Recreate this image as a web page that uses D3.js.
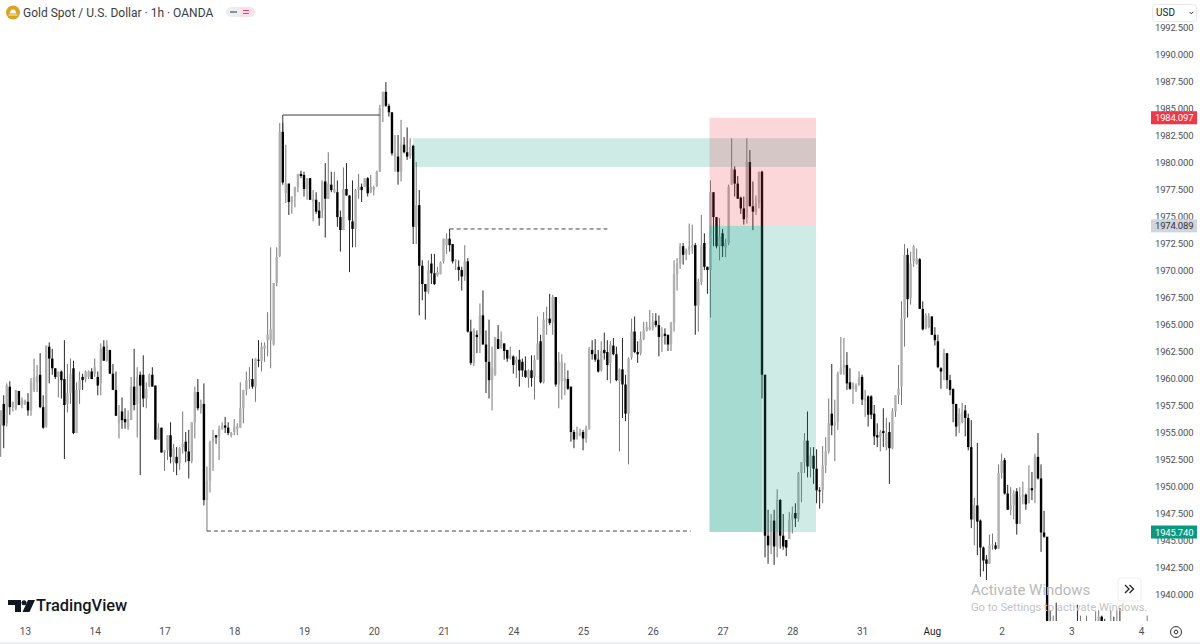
<!DOCTYPE html>
<html>
<head>
<meta charset="utf-8">
<script src="https://cdn.jsdelivr.net/npm/d3@7"></script>
<style>
html, body { margin: 0; padding: 0; background: #fff; overflow: hidden; }
svg { display: block; }
text { font-family: Roboto, "Noto Sans", sans-serif; }
</style>
</head>
<body>
<script>
// XAUUSD 1h candles, bar 1 is the leftmost one
var opens = [
1955.6,1957.6,1955.8,1959.2,1957.3,1957.2,1958.8,1957.5,1957.6,1957.8,
1957.0,1958.9,1959.6,1960.3,1957.3,1955.5,1962.9,1961.8,1960.9,1960.1,
1960.6,1959.9,1957.6,1958.6,1960.9,1954.9,1958.9,1960.1,1959.9,1960.1,
1960.6,1960.4,1960.1,1959.5,1962.9,1961.6,1962.6,1960.4,1958.9,1955.8,
1956.9,1956.2,1955.4,1956.1,1959.2,1957.6,1960.3,1960.3,1958.1,1959.2,
1960.3,1959.3,1954.3,1955.4,1953.1,1953.3,1954.7,1952.2,1952.7,1952.1,
1953.6,1954.1,1953.2,1952.3,1955.9,1958.7,1957.2,1957.6,1948.7,1950.5,
1954.1,1954.7,1954.6,1955.3,1955.6,1955.4,1954.7,1955.0,1955.3,1955.4,
1957.2,1958.9,1959.8,1959.9,1959.2,1961.7,1961.6,1962.7,1963.5,1963.5,
1963.1,1968.8,1971.3,1982.8,1977.1,1978.0,1976.3,1976.8,1977.7,1978.9,
1978.8,1977.5,1978.5,1976.3,1976.5,1975.5,1975.5,1978.2,1976.6,1977.9,
1977.2,1977.2,1974.9,1973.7,1977.5,1976.9,1974.5,1973.8,1977.4,1977.7,
1977.7,1978.5,1977.2,1977.4,1977.8,1979.1,1985.1,1986.5,1985.2,1984.6,
1980.5,1980.5,1979.1,1981.6,1980.9,1980.6,1981.5,1974.0,1976.0,1970.4,
1968.7,1968.0,1970.6,1969.7,1969.5,1969.6,1970.8,1972.3,1972.9,1972.4,
1970.8,1970.3,1970.0,1969.4,1970.8,1964.3,1961.4,1964.0,1964.0,1965.8,
1963.1,1961.5,1959.8,1960.3,1963.6,1962.8,1963.2,1962.6,1961.8,1962.0,
1961.4,1961.7,1961.5,1960.7,1960.0,1960.7,1960.1,1961.7,1963.4,1959.6,
1965.4,1965.5,1965.1,1967.5,1959.4,1959.7,1959.7,1959.9,1959.2,1955.0,
1954.6,1954.7,1955.0,1954.4,1955.3,1962.6,1962.2,1961.7,1960.7,1962.6,
1962.4,1961.4,1963.0,1962.2,1959.7,1960.8,1959.4,1956.7,1961.9,1964.3,
1962.4,1962.3,1963.6,1964.4,1964.5,1964.6,1965.3,1964.9,1963.8,1964.1,
1964.0,1963.1,1965.1,1969.6,1970.6,1972.2,1971.5,1971.8,1972.1,1972.3,
1966.7,1968.9,1972.5,1970.3,1970.0,1977.2,1974.9,1972.2,1973.4,1972.1,
1972.5,1977.9,1979.3,1978.0,1976.7,1975.7,1974.9,1980.0,1975.9,1975.4,
1976.2,1979.1,1960.3,1945.4,1944.5,1946.8,1944.4,1948.7,1945.4,1945.0,
1945.1,1946.9,1947.5,1947.0,1951.2,1952.2,1954.2,1951.8,1952.8,1951.6,
1949.6,1949.6,1951.9,1953.2,1956.7,1955.6,1955.9,1960.4,1960.9,1961.2,
1959.6,1959.0,1958.9,1959.3,1960.1,1957.9,1958.3,1958.3,1956.7,1954.7,
1954.5,1955.1,1953.6,1955.0,1953.5,1956.9,1958.4,1959.2,1965.5,1971.4,
1967.4,1970.8,1970.6,1971.0,1966.4,1964.6,1964.7,1965.7,1964.0,1963.4,
1960.9,1960.7,1962.3,1959.8,1959.0,1957.6,1955.6,1955.9,1957.0,1956.3,
1953.6,1946.9,1948.2,1946.8,1944.3,1943.2,1942.8,1944.5,1944.5,1944.2,
1951.2,1952.4,1949.3,1947.8,1948.2,1949.5,1946.5,1949.0,1949.2,1948.4,
1949.8,1949.8,1952.7,1950.7,1945.7,1945.3,1934.8,1933.0,1934.5,1933.4,
1932.6,1934.1,1935.2,1934.4,1935.6,1936.4,1935.7,1936.6,1935.8,1936.7,
1936.0,1935.3,1936.9,1937.9,1937.0,1936.4,1935.9,1937.0,1936.2,1937.1,
1936.2,1935.3,1934.6,1935.4,1934.8,1935.7,1935.1,1936.0,1935.5
];
var highs = [
1957.0,1958.4,1959.5,1959.7,1957.8,1958.9,1958.8,1958.2,1958.0,1958.6,
1960.0,1961.8,1961.2,1962.3,1958.4,1963.0,1963.3,1962.7,1960.9,1960.6,
1960.7,1963.5,1961.3,1961.8,1961.6,1959.6,1960.6,1960.4,1960.7,1960.7,
1960.9,1961.8,1960.6,1963.2,1963.5,1963.5,1962.6,1961.3,1960.6,1957.5,
1958.2,1957.2,1957.0,1960.1,1962.7,1961.0,1960.6,1962.1,1959.6,1960.4,
1961.0,1959.3,1955.8,1955.4,1953.3,1954.7,1955.9,1953.9,1953.6,1953.6,
1956.9,1955.0,1955.2,1955.9,1959.2,1959.9,1958.0,1959.5,1951.8,1954.2,
1955.2,1954.7,1955.6,1955.9,1956.4,1955.9,1955.0,1956.2,1955.8,1959.6,
1958.9,1960.6,1961.0,1961.8,1961.8,1963.5,1963.3,1963.3,1966.1,1972.1,
1968.8,1972.1,1983.6,1983.6,1981.6,1978.0,1976.8,1977.7,1978.9,1979.2,
1979.1,1978.5,1978.5,1977.4,1977.2,1976.3,1978.3,1979.9,1980.9,1979.1,
1979.1,1978.3,1975.5,1979.5,1979.9,1976.9,1978.3,1977.5,1978.9,1978.0,
1978.5,1978.6,1978.8,1977.8,1979.2,1985.3,1986.5,1987.4,1985.4,1984.6,
1982.5,1982.5,1983.9,1982.3,1983.2,1982.2,1981.6,1980.0,1977.4,1970.9,
1968.7,1970.9,1971.5,1971.5,1970.3,1970.8,1972.9,1973.4,1973.8,1972.4,
1971.0,1970.9,1970.3,1972.3,1971.1,1965.4,1964.6,1964.4,1966.9,1968.1,
1964.4,1965.4,1962.9,1963.8,1964.9,1964.3,1963.2,1962.6,1962.9,1962.1,
1962.0,1962.6,1961.8,1962.0,1960.8,1962.1,1962.1,1965.7,1964.0,1966.1,
1966.6,1967.8,1967.7,1967.5,1962.4,1962.2,1961.4,1960.7,1959.2,1955.2,
1955.5,1955.3,1955.2,1955.6,1962.9,1963.5,1963.6,1962.6,1963.4,1964.2,
1963.5,1963.4,1963.7,1962.9,1960.9,1963.7,1960.3,1961.9,1965.5,1965.7,
1963.4,1964.3,1965.2,1965.2,1966.3,1966.0,1966.0,1965.8,1964.7,1964.6,
1964.0,1965.2,1970.9,1971.1,1972.5,1972.5,1972.0,1974.3,1974.2,1972.5,
1969.2,1975.1,1973.4,1970.3,1978.3,1977.2,1974.9,1974.8,1973.8,1972.9,
1977.9,1982.2,1979.6,1978.7,1976.8,1976.8,1982.2,1981.1,1978.2,1976.9,
1979.1,1979.2,1960.3,1947.8,1947.4,1947.8,1949.7,1948.8,1947.4,1945.0,
1947.6,1948.1,1948.4,1951.3,1952.2,1954.9,1956.9,1953.6,1953.6,1953.4,
1949.9,1953.7,1954.5,1958.1,1961.3,1958.0,1960.6,1963.8,1963.7,1962.4,
1960.9,1959.6,1959.5,1960.6,1960.3,1958.9,1958.4,1958.4,1957.5,1955.8,
1955.2,1957.2,1956.3,1955.9,1957.2,1958.4,1961.2,1967.1,1972.4,1972.0,
1971.7,1972.3,1972.0,1971.1,1967.1,1966.0,1966.0,1965.7,1964.7,1964.0,
1961.0,1962.7,1962.3,1960.3,1959.0,1957.6,1957.2,1957.7,1957.5,1956.7,
1956.1,1948.9,1954.0,1946.9,1944.4,1943.6,1945.5,1945.6,1944.8,1952.0,
1953.0,1952.6,1950.1,1949.9,1949.6,1949.8,1949.9,1950.4,1949.3,1951.9,
1951.3,1953.0,1954.9,1952.0,1947.7,1945.3,1938.5,1938.0,1939.2,1936.6,
1935.8,1936.3,1936.9,1936.2,1937.2,1939.0,1938.0,1937.2,1938.0,1937.3,
1936.9,1938.4,1938.5,1938.0,1937.7,1937.1,1938.5,1937.9,1938.5,1938.7,
1937.0,1936.2,1936.1,1936.3,1936.4,1936.8,1936.9,1937.0,1938.0
];
var lows = [
1952.7,1953.5,1955.5,1956.6,1956.9,1957.0,1957.5,1957.2,1957.5,1956.5,
1956.5,1958.7,1958.7,1957.2,1955.3,1955.4,1959.5,1960.3,1959.9,1958.2,
1958.1,1952.5,1956.8,1957.6,1954.8,1954.9,1957.6,1958.9,1959.6,1959.9,
1959.9,1960.1,1958.4,1958.4,1961.6,1961.5,1960.4,1958.9,1956.5,1954.4,
1955.3,1955.3,1955.2,1956.1,1957.0,1954.5,1951.0,1957.3,1957.2,1959.2,
1959.2,1954.3,1954.3,1953.1,1951.4,1952.4,1952.1,1951.3,1951.0,1951.5,
1953.0,1952.2,1950.7,1952.1,1954.4,1957.0,1956.7,1948.2,1945.8,1949.4,
1951.4,1953.9,1952.4,1955.2,1954.9,1954.7,1954.5,1954.7,1954.7,1955.4,
1955.8,1958.4,1959.0,1959.0,1957.8,1961.0,1960.6,1961.5,1962.0,1960.9,
1963.0,1968.5,1971.2,1977.9,1976.2,1975.1,1975.2,1975.8,1977.2,1978.5,
1976.8,1976.5,1976.5,1974.5,1975.2,1974.1,1974.8,1973.0,1976.6,1977.2,
1977.1,1974.0,1971.7,1973.7,1976.9,1969.8,1972.1,1972.1,1976.6,1976.3,
1977.7,1976.8,1977.1,1976.9,1977.7,1979.1,1983.7,1985.1,1984.2,1980.6,
1979.1,1977.9,1978.2,1980.8,1980.2,1980.3,1972.4,1972.4,1965.8,1967.2,
1965.4,1967.8,1968.7,1968.6,1969.4,1969.6,1970.6,1971.5,1971.7,1970.6,
1970.0,1969.0,1968.1,1969.0,1964.2,1961.2,1961.1,1962.3,1962.3,1963.1,
1958.6,1958.1,1957.0,1960.2,1962.7,1962.7,1961.7,1961.5,1961.7,1960.4,
1960.0,1959.2,1960.1,1960.0,1959.1,1959.2,1958.0,1961.7,1959.5,1959.5,
1964.0,1964.9,1964.0,1959.2,1957.2,1958.0,1958.4,1958.9,1954.1,1953.5,
1954.3,1954.6,1953.3,1954.0,1955.2,1961.7,1961.5,1960.5,1960.6,1961.7,
1959.8,1959.5,1962.1,1959.7,1953.2,1956.3,1956.0,1952.0,1961.7,1962.3,
1961.4,1962.1,1963.5,1964.3,1964.4,1964.4,1964.7,1962.0,1962.4,1963.1,
1962.5,1962.5,1964.3,1968.1,1970.1,1970.5,1970.9,1971.4,1971.5,1964.0,
1964.3,1968.6,1970.0,1967.8,1965.6,1972.2,1972.0,1970.9,1971.2,1971.2,
1972.3,1977.9,1976.8,1976.6,1975.2,1974.2,1974.3,1975.9,1973.7,1975.1,
1975.7,1958.1,1943.4,1942.8,1943.7,1942.7,1943.4,1944.2,1944.1,1943.5,
1945.1,1945.6,1946.2,1946.7,1948.5,1951.2,1950.8,1950.8,1950.2,1948.4,
1947.9,1948.4,1951.2,1953.0,1954.7,1952.3,1955.2,1960.3,1960.3,1958.9,
1958.9,1957.6,1958.7,1959.3,1957.5,1956.4,1955.5,1956.2,1953.8,1953.6,
1953.2,1953.6,1953.3,1950.2,1953.4,1956.4,1957.6,1957.5,1962.9,1965.6,
1966.8,1970.3,1970.5,1966.4,1964.4,1964.5,1964.6,1964.0,1963.0,1960.9,
1959.0,1959.8,1959.0,1958.4,1955.9,1954.6,1954.9,1955.8,1954.6,1953.3,
1946.1,1944.5,1943.6,1941.6,1942.1,1941.3,1942.8,1944.1,1944.1,1944.2,
1950.7,1949.2,1947.8,1947.3,1946.9,1945.5,1946.5,1948.3,1947.8,1948.4,
1948.7,1948.4,1950.6,1943.9,1945.2,1934.0,1932.0,1932.5,1932.8,1931.9,
1931.8,1933.2,1933.9,1933.5,1934.9,1935.2,1935.1,1935.3,1935.2,1935.6,
1934.9,1934.9,1936.2,1936.8,1936.2,1935.6,1935.4,1935.9,1935.8,1935.9,
1934.9,1934.1,1934.0,1934.2,1934.3,1934.7,1934.7,1935.1,1935.0
];
var closes = [
1957.0,1955.6,1959.3,1957.3,1957.8,1958.9,1957.5,1958.0,1957.9,1957.0,
1959.6,1960.1,1960.2,1957.3,1955.4,1963.0,1961.8,1960.9,1960.1,1960.6,
1959.8,1957.5,1958.6,1960.4,1954.9,1958.9,1959.8,1959.8,1960.6,1960.6,
1959.9,1961.0,1959.3,1962.7,1961.6,1963.0,1960.4,1958.9,1956.5,1956.5,
1956.1,1955.9,1956.2,1959.2,1957.5,1960.1,1959.3,1958.1,1959.0,1960.3,
1959.2,1954.3,1955.4,1953.1,1953.3,1954.7,1952.7,1953.5,1952.1,1953.5,
1953.9,1953.2,1952.3,1955.9,1958.7,1957.2,1957.6,1948.7,1950.5,1954.1,
1954.5,1954.5,1955.3,1955.6,1955.4,1954.9,1954.9,1955.5,1955.5,1957.2,
1958.9,1959.8,1959.9,1959.2,1961.8,1961.6,1962.9,1963.0,1964.0,1964.5,
1968.8,1971.2,1982.8,1978.1,1978.0,1976.3,1976.8,1977.7,1978.9,1978.7,
1977.5,1978.5,1976.5,1976.6,1975.4,1974.8,1978.2,1976.6,1978.0,1977.4,
1977.5,1974.9,1973.7,1977.5,1976.9,1974.6,1973.8,1977.4,1977.7,1977.4,
1978.5,1977.1,1977.7,1977.7,1979.1,1985.0,1986.5,1985.2,1984.6,1980.8,
1980.8,1979.1,1981.6,1980.9,1980.5,1981.4,1974.0,1976.0,1970.4,1968.7,
1968.0,1970.0,1969.7,1968.7,1969.8,1970.7,1972.9,1972.9,1972.3,1970.8,
1970.9,1970.0,1969.4,1970.8,1964.3,1961.4,1964.4,1963.8,1965.8,1963.1,
1961.5,1959.8,1960.9,1963.8,1962.7,1963.5,1962.5,1961.8,1962.1,1961.2,
1961.7,1960.7,1960.7,1960.1,1960.7,1960.0,1961.7,1963.2,1959.6,1965.4,
1965.5,1965.1,1967.5,1959.4,1961.5,1961.5,1960.0,1959.0,1955.0,1954.3,
1955.0,1954.9,1954.4,1955.3,1962.7,1962.2,1961.7,1960.6,1962.5,1962.3,
1961.2,1963.1,1962.2,1959.8,1960.8,1959.4,1956.7,1961.8,1964.3,1962.4,
1962.2,1963.6,1964.4,1964.7,1964.7,1965.2,1964.9,1963.8,1964.0,1963.9,
1963.1,1965.1,1969.6,1970.6,1972.2,1971.4,1971.8,1972.2,1972.3,1966.7,
1968.9,1972.3,1970.3,1970.0,1977.2,1974.9,1972.2,1973.1,1972.2,1972.5,
1977.7,1979.4,1978.0,1976.6,1975.7,1974.7,1980.0,1975.9,1975.4,1976.2,
1979.1,1960.3,1945.4,1944.5,1946.8,1944.4,1948.7,1945.4,1944.4,1944.3,
1946.9,1947.4,1947.0,1951.2,1952.2,1954.2,1951.8,1952.8,1951.6,1949.6,
1949.5,1951.9,1953.2,1955.8,1955.6,1955.9,1960.4,1960.9,1961.2,1959.5,
1959.0,1959.5,1959.3,1960.1,1958.0,1958.1,1956.6,1956.6,1954.6,1954.5,
1955.0,1954.9,1954.9,1953.5,1956.9,1958.4,1959.0,1965.5,1971.4,1967.3,
1970.6,1972.2,1971.1,1966.4,1964.5,1965.8,1965.7,1964.0,1963.5,1961.0,
1960.6,1962.3,1959.8,1958.9,1957.6,1955.5,1956.7,1956.9,1956.3,1953.6,
1946.9,1948.2,1946.7,1944.3,1943.1,1942.8,1944.5,1944.6,1944.2,1951.2,
1952.3,1949.3,1947.8,1948.2,1949.3,1946.5,1949.0,1949.2,1948.3,1949.8,
1949.6,1952.7,1950.7,1945.7,1945.3,1934.8,1933.0,1934.5,1933.4,1932.6,
1934.1,1935.2,1934.4,1935.6,1936.4,1935.7,1936.6,1935.8,1936.7,1936.0,
1935.3,1936.9,1937.9,1937.0,1936.4,1935.9,1937.0,1936.2,1937.1,1936.2,
1935.3,1934.6,1935.4,1934.8,1935.7,1935.1,1936.0,1935.5,1936.6
];

var priceTicks = [1940, 1942.5, 1945, 1947.5, 1950, 1952.5, 1955, 1957.5, 1960, 1962.5, 1965, 1967.5,
    1970, 1972.5, 1975, 1977.5, 1980, 1982.5, 1985, 1987.5, 1990, 1992.5];
var dayLabels = ["13", "14", "17", "18", "19", "20", "21", "24", "25", "26", "27", "28", "31", "Aug", "2", "3", "4"];
var dayBars = [9, 32, 55, 78, 101, 124, 147, 170, 193, 216, 239, 262, 285, 308, 331, 354, 377];

// drawings, in [first bar, last bar] and price
var stopPrice = 1984.097;
var entryPrice = 1974.089;
var targetPrice = 1945.74;
var positionBars = [234.7, 269.8];
var filledBars = [234.7, 252];
var zoneBars = [137, 269.8];
var zonePrices = [1982.2, 1979.55];
var highLineBars = [94, 126];
var highLinePrice = 1984.35;
var highLineStart = 1982.8;
var midDashBars = [149, 201];
var midDashPrice = 1973.8;
var lowDashBars = [69, 228.5];
var lowDashPrice = 1945.83;

var width = 1200;
var height = 644;
var chartBottom = 621;
var chartRight = 1150;

var x = d3.scaleLinear().domain([1, 379]).range([0.7, 1147.2]);
var y = d3.scaleLinear().domain([1940, 1990]).range([594, 54]);

var svg = d3.select("body").append("svg")
    .attr("width", width)
    .attr("height", height);

svg.append("clipPath").attr("id", "plot")
    .append("rect")
    .attr("width", chartRight)
    .attr("height", chartBottom);

var plot = svg.append("g").attr("clip-path", "url(#plot)");

var bars = d3.range(opens.length);
var upGray = "#b0b0b0";
var upWick = "#787878";
var downWick = "#262626";

function isUp(i) {
    return closes[i] >= opens[i];
}

// wicks
plot.selectAll("line.wick")
    .data(bars)
    .enter()
    .append("line")
    .attr("class", "wick")
    .attr("x1", function(i) { return x(i + 1); })
    .attr("x2", function(i) { return x(i + 1); })
    .attr("y1", function(i) { return y(highs[i]); })
    .attr("y2", function(i) { return y(lows[i]); })
    .attr("stroke", function(i) { return isUp(i) ? upWick : downWick; })
    .attr("stroke-width", 1);

// bodies
plot.selectAll("rect.body")
    .data(bars)
    .enter()
    .append("rect")
    .attr("class", "body")
    .attr("x", function(i) { return x(i + 1) - 1.2; })
    .attr("width", 2.4)
    .attr("y", function(i) { return y(Math.max(opens[i], closes[i])); })
    .attr("height", function(i) {
        return Math.max(1, Math.abs(y(opens[i]) - y(closes[i])));
    })
    .attr("fill", function(i) { return isUp(i) ? upGray : "#000"; });

function box(g, xs, prices, fill) {
    g.append("rect")
        .attr("x", x(xs[0]))
        .attr("width", x(xs[1]) - x(xs[0]))
        .attr("y", y(prices[0]))
        .attr("height", y(prices[1]) - y(prices[0]))
        .attr("fill", fill);
}

var red = "rgba(242,54,69,0.2)";
var teal = "rgba(8,153,129,0.2)";
box(plot, zoneBars, zonePrices, teal);
box(plot, positionBars, [stopPrice, entryPrice], red);
box(plot, positionBars, [entryPrice, targetPrice], teal);
box(plot, filledBars, [entryPrice, targetPrice], teal);

// hand drawn lines
plot.append("path")
    .attr("d", d3.line()([
        [x(highLineBars[1]), y(highLinePrice)],
        [x(highLineBars[0]), y(highLinePrice)],
        [x(highLineBars[0]), y(highLineStart)]
    ]))
    .attr("fill", "none")
    .attr("stroke", "#3a3a3a")
    .attr("stroke-width", 1);

function dash(xs, price) {
    plot.append("line")
        .attr("x1", x(xs[0]))
        .attr("x2", x(xs[1]))
        .attr("y1", y(price))
        .attr("y2", y(price))
        .attr("stroke", "#444")
        .attr("stroke-width", 1)
        .attr("stroke-dasharray", "4 3");
}
dash(midDashBars, midDashPrice);
dash(lowDashBars, lowDashPrice);

// price axis
var yAxis = d3.axisRight(y)
    .tickValues(priceTicks)
    .tickSize(0)
    .tickFormat(d3.format(".3f"));

var yAxisG = svg.append("g")
    .attr("transform", "translate(1155,0)")
    .call(yAxis);
yAxisG.select(".domain").remove();
yAxisG.selectAll("text")
    .attr("x", 0)
    .attr("text-anchor", "start")
    .attr("fill", "#4c4f57")
    .attr("font-size", "9.5px")
    .attr("letter-spacing", "-0.2px");

// time axis
var xAxis = d3.axisBottom(x)
    .tickValues(dayBars)
    .tickSize(0)
    .tickFormat(function(d, i) { return dayLabels[i]; });

var xAxisG = svg.append("g")
    .attr("transform", "translate(0,626)")
    .call(xAxis);
xAxisG.select(".domain").remove();
xAxisG.selectAll("text")
    .attr("y", 2)
    .attr("fill", function(d, i) { return dayLabels[i] === "Aug" ? "#222" : "#4c4f57"; })
    .attr("font-size", "10px");

// price tags
var tags = [
    { price: stopPrice, fill: "#f23645", color: "#fff" },
    { price: entryPrice, fill: "#d1d4dc", color: "#333" },
    { price: targetPrice, fill: "#089981", color: "#fff" }
];
tags.forEach(function(t) {
    svg.append("rect")
        .attr("x", 1151)
        .attr("y", y(t.price) - 6.5)
        .attr("width", 46)
        .attr("height", 13)
        .attr("fill", t.fill);
    svg.append("text")
        .attr("x", 1155)
        .attr("y", y(t.price) + 3.5)
        .attr("fill", t.color)
        .attr("font-size", "9.5px")
        .attr("letter-spacing", "-0.2px")
        .text(d3.format(".3f")(t.price));
});

// USD box on top of the axis
svg.append("rect").attr("x", 1148).attr("y", 0).attr("width", 52).attr("height", 24).attr("fill", "#fff");
svg.append("rect")
    .attr("x", 1152.5).attr("y", 4.5).attr("width", 44).attr("height", 17).attr("rx", 3)
    .attr("fill", "#fff").attr("stroke", "#e6e8ee");
svg.append("text").attr("x", 1156).attr("y", 16).attr("fill", "#222").attr("font-size", "10px").text("USD");
svg.append("path").attr("d", "M1189.5 12l1.8 1.8 1.8-1.8").attr("fill", "none").attr("stroke", "#333");

// title
svg.append("circle").attr("cx", 13).attr("cy", 12.5).attr("r", 7).attr("fill", "#d9a520");
svg.append("path").attr("d", "M8.5 15h9M10 13l1.5-3h3l1.5 3z").attr("fill", "#fff").attr("stroke", "#fff").attr("stroke-width", 0.8);
svg.append("text")
    .attr("x", 23).attr("y", 17)
    .attr("fill", "#3a3d45")
    .attr("font-size", "12px")
    .text("Gold Spot / U.S. Dollar · 1h · OANDA");
svg.append("path").attr("d", "M231 7h9v10h-9a5 5 0 0 1 0-10z").attr("fill", "#eceef2");
svg.append("path").attr("d", "M240 7h10a5 5 0 0 1 0 10h-10z").attr("fill", "#fbe0e8");
svg.append("rect").attr("x", 230).attr("y", 11).attr("width", 7).attr("height", 2).attr("fill", "#8d9099");
svg.append("path").attr("d", "M243 10.5h6M243 13.5h6").attr("stroke", "#e5436f").attr("stroke-width", 1.2);

// logo
svg.append("path")
    .attr("d", "M8 600h13v12h-6v-7h-7z M28 600h7l-5.5 12h-7z")
    .attr("fill", "#131722");
svg.append("circle").attr("cx", 24).attr("cy", 602.7).attr("r", 2.5).attr("fill", "#131722");
svg.append("text")
    .attr("x", 36).attr("y", 611)
    .attr("fill", "#131722")
    .attr("font-size", "16.4px")
    .attr("font-weight", 500)
    .text("TradingView");

// scroll button
svg.append("rect")
    .attr("x", 1118).attr("y", 578).attr("width", 23).attr("height", 23).attr("rx", 3)
    .attr("fill", "#fff").attr("stroke", "#eeeeee");
svg.append("path").attr("d", "M1125 585l4 4-4 4M1129.5 585l4 4-4 4").attr("fill", "none").attr("stroke", "#222").attr("stroke-width", 1.3);

// settings
svg.append("circle").attr("cx", 1176).attr("cy", 632).attr("r", 5.5).attr("fill", "none").attr("stroke", "#333");
svg.append("circle").attr("cx", 1176).attr("cy", 632).attr("r", 1.8).attr("fill", "none").attr("stroke", "#333");

// bottom edge
svg.append("rect").attr("x", 0).attr("y", 642).attr("width", width).attr("height", 2).attr("fill", "#eceef0");

// windows watermark
svg.append("text")
    .attr("x", 971).attr("y", 595)
    .attr("fill", "#b9b9b9")
    .attr("font-family", "Open Sans")
    .attr("font-size", "15px")
    .text("Activate Windows");
svg.append("text")
    .attr("x", 971).attr("y", 611)
    .attr("fill", "#c4c4c4")
    .attr("font-family", "Open Sans")
    .attr("font-size", "11.2px")
    .text("Go to Settings to activate Windows.");
</script>
</body>
</html>
